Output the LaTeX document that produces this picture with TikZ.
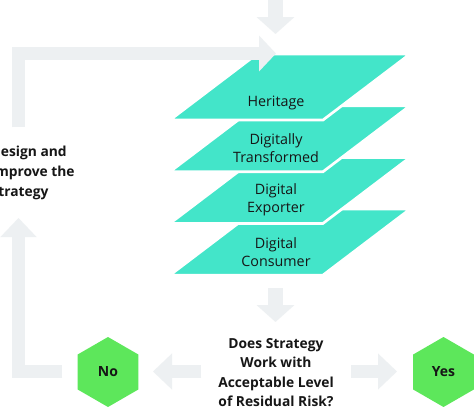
\documentclass[tikz,border=0pt]{standalone}
\usepackage{fontspec}
\setmainfont{Open Sans}
\usetikzlibrary{arrows.meta,shapes.geometric}
\definecolor{teal1}{HTML}{43E5C9}
\definecolor{green1}{HTML}{5DE75B}
\definecolor{arrowgray}{HTML}{EDF0F2}
\definecolor{txt}{HTML}{161616}
\tikzset{
  bigarrow/.style={draw=arrowgray, line width=13pt, line join=miter, line cap=butt,
    -{Triangle[width=35pt,length=18pt]}},
  layertext/.style={align=center, font=\fontsize{14.3}{18}\selectfont, text=txt, inner sep=0pt},
  boldtext/.style={align=center, font=\bfseries\fontsize{13.8}{19.6}\selectfont, text=txt, inner sep=0pt},
  hexa/.style={regular polygon, regular polygon sides=6, shape border rotate=30,
    minimum size=70pt, inner sep=0pt, fill=green1, font=\bfseries\fontsize{14}{16}\selectfont, text=txt},
  layershape/.style={fill=teal1, draw=white, line width=2.7pt, line join=miter}
}
\begin{document}
\begin{tikzpicture}[x=1pt,y=-1pt]
\clip (0,0) rectangle (474,407);
\fill[white] (0,0) rectangle (474,407);
% layers, bottom one first
\foreach \i in {3,2,1,0}{
  \pgfmathsetmacro{\t}{54+51.7*\i}
  \pgfmathsetmacro{\b}{120+51.7*\i}
  \draw[layershape] (170,\b) -- (323,\b) -- (410,\t) -- (257,\t) -- cycle;
}
\node[layertext] (heritage) at (276,103) {Heritage};
\node[layertext] (dt) at (276,148) {Digitally\\Transformed};
\node[layertext] (de) at (276,200) {Digital\\Exporter};
\node[layertext] (dc) at (276,252) {Digital\\Consumer};
% decision and outcomes
\node[boldtext] (q) at (276,372.5) {Does Strategy\\Work with\\Acceptable Level\\of Residual Risk?};
\node[hexa] (no) at (108,372) {No};
\node[hexa] (yes) at (443.5,372) {Yes};
\node[boldtext, align=left, anchor=west] (design) at (-9.5,173) {Design and\\Improve the\\Strategy};
% coordinates for block arrows
\coordinate (in0) at (275.5,-5);
\coordinate (in1) at (275.5,34);
\coordinate (loopA) at (18.5,127);
\coordinate (loopB) at (18.5,53.5);
\coordinate (loopC) at (276,53.5);
\coordinate (out0) at (275.5,288);
\coordinate (out1) at (275.5,322);
\coordinate (qL) at (201,371.5);
\coordinate (noR) at (153,371.5);
\coordinate (qR) at (351,371.5);
\coordinate (yesL) at (397,371.5);
\coordinate (noL) at (62,371.5);
\coordinate (backA) at (18.5,371.5);
\coordinate (backB) at (18.5,218);
\draw[bigarrow, line width=15pt, -{Triangle[width=37pt,length=17pt]}] (in0) -- (in1);
\draw[bigarrow, -{Triangle[width=35pt,length=17pt]}] (loopA) -- (loopB) -- (loopC);
\draw[bigarrow, line width=15pt, -{Triangle[width=37pt,length=17pt]}] (out0) -- (out1);
\draw[bigarrow, -{Triangle[width=35pt,length=19pt]}] (qL) -- (noR);
\draw[bigarrow, -{Triangle[width=35pt,length=19pt]}] (qR) -- (yesL);
\draw[bigarrow, -{Triangle[width=35pt,length=19pt]}] (noL) -- (backA) -- (backB);
\end{tikzpicture}
\end{document}
